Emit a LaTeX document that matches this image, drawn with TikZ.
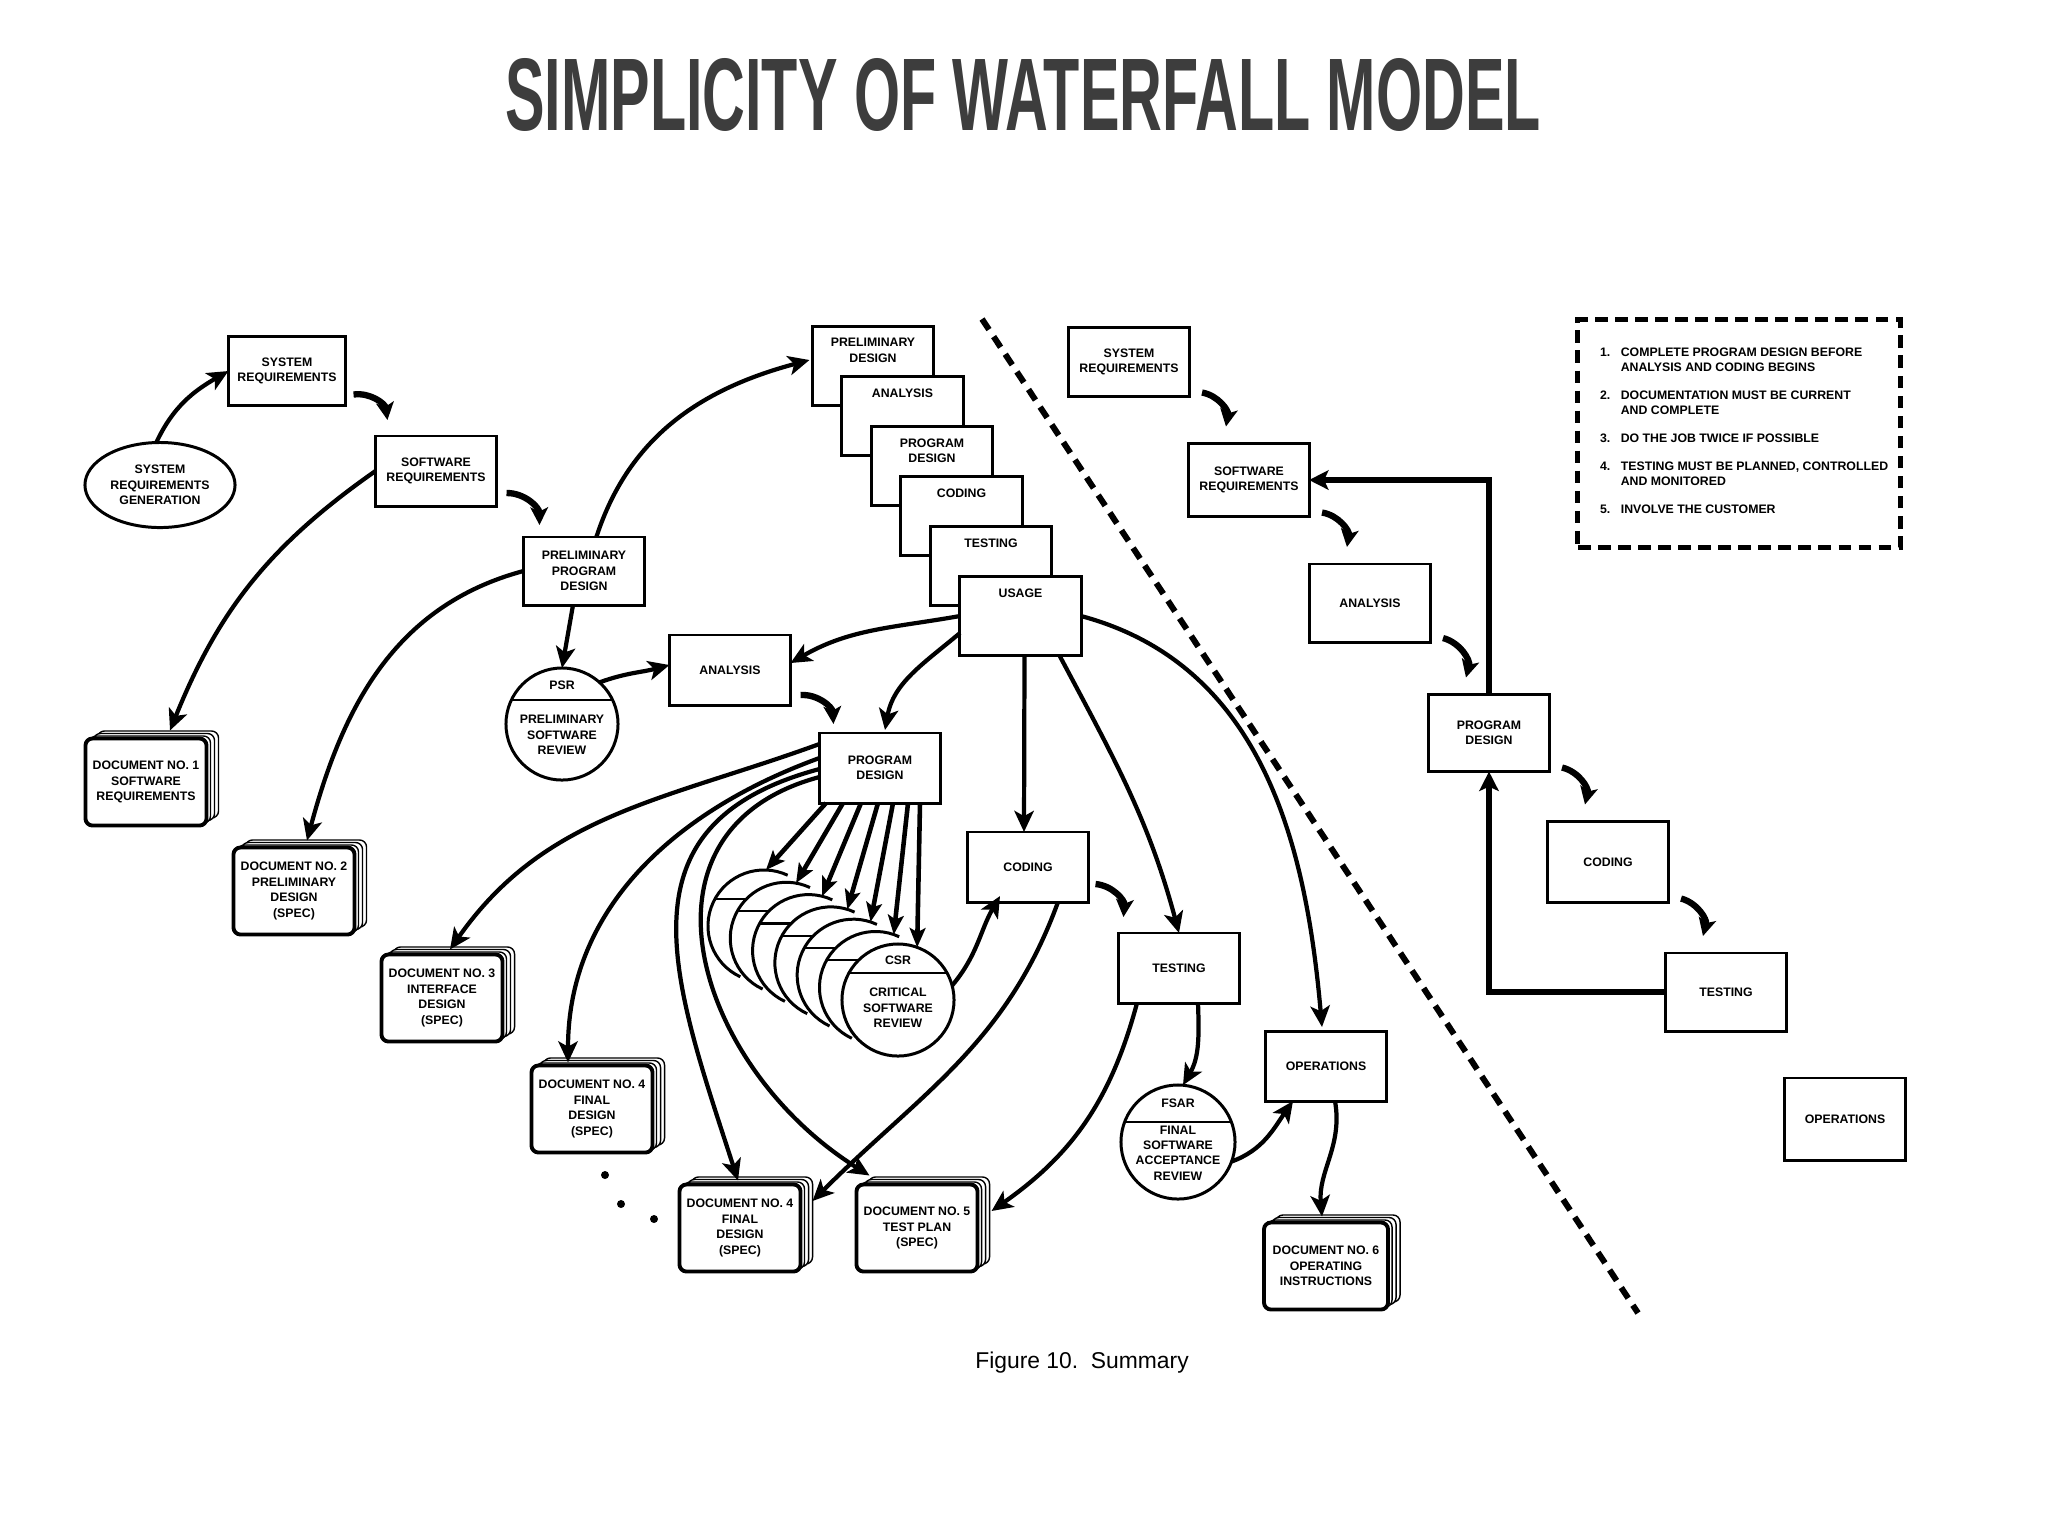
\documentclass[tikz,border=0pt]{standalone}
\usepackage{graphicx}
\usepackage{fontspec}
\setmainfont{Liberation Sans}
\usetikzlibrary{arrows.meta, shapes.geometric}
\definecolor{titlegray}{HTML}{3D3D3D}

\begin{document}
\begin{tikzpicture}[x=0.01cm, y=-0.01cm,
  every node/.style={inner sep=0pt, outer sep=0pt, align=center, font=\fontsize{3.5}{4.4}\selectfont\bfseries},
  box/.style={draw, line width=0.85pt, fill=white, minimum width=1.21cm, minimum height=0.70cm},
  rbox/.style={box, minimum width=1.2cm, minimum height=0.77cm},
  stackbox/.style={box, minimum height=0.79cm},
  doc/.style={draw, line width=1.1pt, rounded corners=2pt, fill=white, minimum width=1.21cm, minimum height=0.87cm,
    preaction={draw, fill=white, line width=0.4pt, transform canvas={shift={(0.12cm,0.075cm)}}},
    preaction={draw, fill=white, line width=0.4pt, transform canvas={shift={(0.08cm,0.05cm)}}},
    preaction={draw, fill=white, line width=0.4pt, transform canvas={shift={(0.04cm,0.025cm)}}}},
  review/.style={draw, circle, line width=0.85pt, fill=white, minimum size=1.12cm},
  ghost/.style={circle, minimum size=1.12cm},
  split/.style={line width=0.6pt},
  flow/.style={line width=1.2pt, -{Stealth[length=6pt, width=5.5pt, inset=1.5pt]}},
  fall/.style={line width=1.8pt, -{Stealth[length=5pt, width=5pt, inset=1.2pt]}},
  fan/.style={line width=1.3pt, -{Stealth[length=5.5pt, width=4.5pt, inset=1.2pt]}},
  back/.style={line width=1.5pt, -{Stealth[length=5.5pt, width=5.5pt, inset=1.2pt]}},
  divider/.style={line width=1.7pt, dash pattern=on 3.6pt off 2.4pt},
  notebox/.style={draw, line width=1.4pt, dash pattern=on 3.6pt off 2.1pt, minimum width=3.22cm, minimum height=2.27cm}]

\useasboundingbox (0,0) rectangle (2048,1535);
\fill[white] (0,0) rectangle (2048,1535);

\node (title) [font=\fontsize{20}{24}\selectfont\bfseries, text=titlegray] at (1023,95) {\resizebox{10.35cm}{0.72cm}{SIMPLICITY OF WATERFALL MODEL}};

% left part
\node (gen) [draw, ellipse, line width=0.85pt, minimum width=1.5cm, minimum height=0.85cm] at (160,485) {SYSTEM\\REQUIREMENTS\\GENERATION};
\node (sysreqA) [box, minimum width=1.17cm, minimum height=0.69cm] at (287,371) {SYSTEM\\REQUIREMENTS};
\node (swreqA) [box] at (436,471) {SOFTWARE\\REQUIREMENTS};
\node (ppdA) [box, minimum height=0.68cm] at (584,571) {PRELIMINARY\\PROGRAM\\DESIGN};
\node (psr) [review] at (562,724) {};
\node (psrtag) at ([shift={(0,-39)}]psr.center) {PSR};
\node (psrname) at ([shift={(0,11)}]psr.center) {PRELIMINARY\\SOFTWARE\\REVIEW};
\draw[split] (psr.155) -- (psr.25);

\node (anaM) [box] at (730,670) {ANALYSIS};
\node (pdM) [box] at (880,768) {PROGRAM\\DESIGN};
\node (codM) [box] at (1028,867) {CODING};
\node (tstM) [box] at (1179,968) {TESTING};
\node (opsM) [box] at (1326,1066) {OPERATIONS};

\foreach \t [count=\k from 0] in {{PRELIMINARY\\DESIGN}, ANALYSIS, {PROGRAM\\DESIGN}, CODING, TESTING, USAGE} {
  \node (s\k) [stackbox] at ({873+29.5*\k},{366+50*\k}) {};
  \node (stxt\k) [anchor=north] at ([shift={(0,12)}]s\k.north) {\t};
}

\node (doc1) [doc] at (146,782) {DOCUMENT NO. 1\\SOFTWARE\\REQUIREMENTS};
\node (doc2) [doc] at (294,891) {DOCUMENT NO. 2\\PRELIMINARY\\DESIGN\\(SPEC)};
\node (doc3) [doc] at (442,998) {DOCUMENT NO. 3\\INTERFACE\\DESIGN\\(SPEC)};
\node (doc4a) [doc] at (592,1109) {DOCUMENT NO. 4\\FINAL\\DESIGN\\(SPEC)};
\node (doc4b) [doc] at (740,1228) {DOCUMENT NO. 4\\FINAL\\DESIGN\\(SPEC)};
\node (doc5) [doc] at (917,1228) {DOCUMENT NO. 5\\TEST PLAN\\(SPEC)};
\node (doc6) [doc, minimum width=1.24cm] at (1326,1266) {DOCUMENT NO. 6\\OPERATING\\INSTRUCTIONS};

\fill (605,1175) circle[radius=0.04cm];
\fill (621,1204) circle[radius=0.04cm];
\fill (654,1219) circle[radius=0.04cm];

\foreach \k in {0,...,5} {
  \node (csr\k) [ghost] at ({764+22.3*\k},{926+12.3*\k}) {};
  \draw[line width=0.85pt] (csr\k.65) arc[start angle=65, end angle=245, radius=0.56cm];
  \draw[split] (csr\k.151) -- ++(31,0);
}
\node (csr6) [review] at (898,1000) {};
\node (csrtag) at ([shift={(0,-40)}]csr6.center) {CSR};
\node (csrname) at ([shift={(0,8)}]csr6.center) {CRITICAL\\SOFTWARE\\REVIEW};
\draw[split] (csr6.151) -- (csr6.29);

\node (fsar) [review, minimum size=1.14cm] at (1178,1142) {};
\node (fsartag) at ([shift={(0,-39)}]fsar.center) {FSAR};
\node (fsarname) at ([shift={(0,11)}]fsar.center) {FINAL\\SOFTWARE\\ACCEPTANCE\\REVIEW};
\draw[split] (fsar.159) -- (fsar.21);

\draw[flow] (gen.95) to[out=65, in=210] (sysreqA.west);
\draw[fall] ([shift={(8,-11)}]sysreqA.south east) to[bend left=45] ([shift={(12,-16)}]swreqA.north west);
\draw[fall] ([shift={(10,-13)}]swreqA.south east) to[bend left=45] ([shift={(16,-12)}]ppdA.north west);
\draw[flow] (swreqA.west) to[out=215, in=68] ([shift={(24,-8)}]doc1.north);
\draw[flow] (ppdA.west) to[out=195, in=75] ([shift={(13,-7)}]doc2.north);
\draw[flow] (ppdA.70) to[out=72, in=195] ([shift={(-3,-6)}]s0.west);
\draw[flow] ([shift={(-11,0)}]ppdA.south) -- (psr.north);
\draw[flow] (psr.48) to[out=20, in=195] ([shift={(0,-5)}]anaM.west);
\draw[fall] ([shift={(10,-10)}]anaM.south east) to[bend left=45] ([shift={(14,-9)}]pdM.north west);

\draw[flow] (s5.west) to[out=190, in=30] ([shift={(0,-7)}]anaM.east);
\draw[flow] ([shift={(0,17)}]s5.west) to[out=220, in=80] ([shift={(5,-3)}]pdM.north);
\draw[flow] ([shift={(4,0)}]s5.south) -- ([shift={(-4,0)}]codM.north);
\draw[flow] ([shift={(39,0)}]s5.south) to[out=-62, in=105] (tstM.north);
\draw[flow] (s5.east) to[out=-15, in=95] ([shift={(-4,-4)}]opsM.north);

\draw[flow] ([shift={(0,-24)}]pdM.west) to[out=200, in=55] ([shift={(8,-5)}]doc3.north);
\draw[flow] ([shift={(0,-10)}]pdM.west) to[out=200, in=90] ([shift={(-24,-3)}]doc4a.north);
\draw[flow] ([shift={(0,1)}]pdM.west) to[out=195, in=108, looseness=1.3] ([shift={(-2,-4)}]doc4b.north);
\draw[flow] ([shift={(0,9)}]pdM.west) to[out=195, in=148, looseness=1.3] ([shift={(13,-9)}]doc5.north west);

\foreach \k/\px/\ang in {0/-54/88, 1/-37/80, 2/-19/76, 3/-2/73, 4/13/72, 5/28/71, 6/40/70}
  \draw[fan] ([shift={(\px,0)}]pdM.south) -- (csr\k.\ang);

\draw[flow] (csr6.15) to[out=50, in=240] ([shift={(-28,-6)}]codM.south);
\draw[flow] ([shift={(30,0)}]codM.south) to[out=250, in=45] ([shift={(12,-27)}]doc4b.east);
\draw[fall] ([shift={(7,-18)}]codM.south east) to[bend left=45] ([shift={(5,-16)}]tstM.north west);
\draw[flow] ([shift={(-42,0)}]tstM.south) to[out=255, in=35] ([shift={(14,-17)}]doc5.east);
\draw[flow] ([shift={(19,0)}]tstM.south) to[out=-88, in=60] (fsar.85);
\draw[flow] (fsar.-20) to[out=20, in=235] ([shift={(-33,0)}]opsM.south);
\draw[flow] ([shift={(9,0)}]opsM.south) to[out=-80, in=95] ([shift={(-4,-6)}]doc6.north);

% divider
\coordinate (cutA) at (982,319);
\coordinate (cutB) at (1638,1313);
\draw[divider] (cutA) -- (cutB);

% right part
\node (sysreqB) [rbox, minimum height=0.69cm] at (1129,362) {SYSTEM\\REQUIREMENTS};
\node (swreqB) [rbox, minimum height=0.73cm] at (1249,480) {SOFTWARE\\REQUIREMENTS};
\node (anaB) [rbox, minimum height=0.78cm] at (1370,603) {ANALYSIS};
\node (pdB) [rbox] at (1489,733) {PROGRAM\\DESIGN};
\node (codB) [rbox, minimum height=0.81cm] at (1608,862) {CODING};
\node (tstB) [rbox, minimum height=0.78cm] at (1726,992) {TESTING};
\node (opsB) [rbox, minimum height=0.82cm] at (1845,1119) {OPERATIONS};

\draw[fall] ([shift={(13,-4)}]sysreqB.south east) to[bend left=45] ([shift={(37,-17)}]swreqB.north west);
\draw[fall] ([shift={(13,-4)}]swreqB.south east) to[bend left=45] ([shift={(37,-17)}]anaB.north west);
\draw[fall] ([shift={(13,-4)}]anaB.south east) to[bend left=45] ([shift={(37,-17)}]pdB.north west);
\draw[fall] ([shift={(13,-4)}]pdB.south east) to[bend left=45] ([shift={(37,-17)}]codB.north west);
\draw[fall] ([shift={(13,-4)}]codB.south east) to[bend left=45] ([shift={(37,-17)}]tstB.north west);
\draw[back] (pdB.north) |- (swreqB.east);
\draw[back] (tstB.west) -| (pdB.south);

\node (notes) [notebox] at (1739,433.5) {};
\node (notelist) [anchor=north west, align=left, font=\fontsize{3.5}{4.2}\selectfont\bfseries] at (1600,346) {%
\begin{tabular}{@{}l@{\hspace{3pt}}l@{}}
1. & COMPLETE PROGRAM DESIGN BEFORE\\
   & ANALYSIS AND CODING BEGINS\\[3.8pt]
2. & DOCUMENTATION MUST BE CURRENT\\
   & AND COMPLETE\\[3.8pt]
3. & DO THE JOB TWICE IF POSSIBLE\\[3.8pt]
4. & TESTING MUST BE PLANNED, CONTROLLED\\
   & AND MONITORED\\[3.8pt]
5. & INVOLVE THE CUSTOMER
\end{tabular}};

\node (caption) [font=\fontsize{6.5}{7.8}\selectfont] at (1082,1363) {Figure 10.\ \ Summary};
\end{tikzpicture}
\end{document}
